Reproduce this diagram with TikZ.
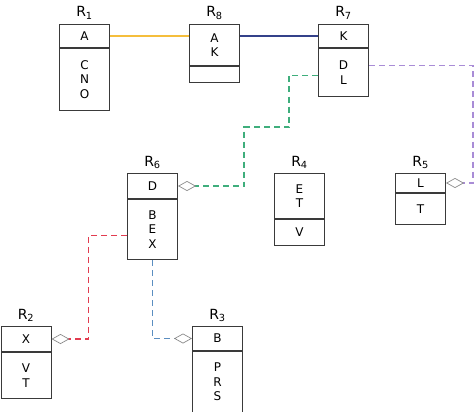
\documentclass[tikz,border=0pt]{standalone}
\usepackage{fontspec}
\setmainfont{DejaVu Sans}
\usetikzlibrary{positioning,arrows.meta}

\definecolor{linkyellow}{HTML}{F5BE3C}
\definecolor{linknavy}{HTML}{34418A}
\definecolor{linkpurple}{HTML}{A98CD6}
\definecolor{linkgreen}{HTML}{3FAE7C}
\definecolor{linkred}{HTML}{E23C50}
\definecolor{linksteel}{HTML}{5B8EC0}
\definecolor{diagray}{HTML}{8A8A8A}
\definecolor{boxgray}{HTML}{3A3A3A}

\begin{document}
\begin{tikzpicture}[x=1pt, y=-1pt,
    cell/.style={draw=boxgray, line width=1pt, minimum width=50pt, inner sep=0pt,
        align=center, font=\fontsize{12}{14.5}\selectfont},
    rel/.style={anchor=base, inner sep=0pt, font=\fontsize{14}{16}\selectfont},
    link/.style={line width=1.2pt},
    fk/.style={link, dash pattern=on 6pt off 4pt,
        -{Diamond[length=18pt, width=10pt, color=diagray, fill=white, line width=0.7pt]}}]
    \useasboundingbox (0,0) rectangle (474,412);

    % Relations in the top row
    \node[cell, minimum height=23pt, anchor=north west] (r1a) at (59,24) {A};
    \node[cell, minimum height=62pt, below=0pt of r1a] (r1b) {C\\N\\O};
    \node[rel] (r1) at ([yshift=7pt]r1a.north) {R\textsubscript{1}};

    \node[cell, minimum height=41pt, anchor=north west] (r8a) at (189,24) {A\\K};
    \node[cell, minimum height=16pt, below=0pt of r8a] (r8b) {};
    \node[rel] (r8) at ([yshift=7pt]r8a.north) {R\textsubscript{8}};

    \node[cell, minimum height=23pt, anchor=north west] (r7a) at (318,24) {K};
    \node[cell, minimum height=48pt, below=0pt of r7a] (r7b) {D\\L};
    \node[rel] (r7) at ([yshift=7pt]r7a.north) {R\textsubscript{7}};

    % Relations in the middle row
    \node[cell, minimum height=25pt, anchor=north west] (r6a) at (127,173) {D};
    \node[cell, minimum height=60pt, below=0pt of r6a] (r6b) {B\\E\\X};
    \node[rel] (r6) at ([yshift=7pt]r6a.north) {R\textsubscript{6}};

    \node[cell, minimum height=45pt, anchor=north west] (r4a) at (274,173) {E\\T};
    \node[cell, minimum height=26pt, below=0pt of r4a] (r4b) {V};
    \node[rel] (r4) at ([yshift=7pt]r4a.north) {R\textsubscript{4}};

    \node[cell, minimum height=19pt, anchor=north west] (r5a) at (395,173) {L};
    \node[cell, minimum height=31pt, below=0pt of r5a] (r5b) {T};
    \node[rel] (r5) at ([yshift=7pt]r5a.north) {R\textsubscript{5}};

    % Relations in the bottom row
    \node[cell, minimum height=25pt, anchor=north west] (r2a) at (0.5,326) {X};
    \node[cell, minimum height=46pt, below=0pt of r2a] (r2b) {V\\T};
    \node[rel] (r2) at ([yshift=7pt]r2a.north) {R\textsubscript{2}};

    \node[cell, minimum height=24pt, anchor=north west] (r3a) at (192,326) {B};
    \node[cell, minimum height=61pt, below=0pt of r3a] (r3b) {P\\R\\S};
    \node[rel] (r3) at ([yshift=7pt]r3a.north) {R\textsubscript{3}};

    % Solid links
    \draw[link, linkyellow] (r1a.east) -- (r1a.east -| r8a.west);
    \draw[link, linknavy] (r7a.west -| r8a.east) -- (r7a.west);

    % Dashed links with diamonds
    \draw[fk, linkpurple] ([yshift=7pt]r7b.east) -| ([xshift=27pt]r5a.east) -- (r5a.east);
    \coordinate (g1) at (289,127);
    \coordinate (g2) at (244,127);
    \draw[fk, linkgreen] ([yshift=-3pt]r7b.west) -| (g1) -- (g2) |- (r6a.east);
    \draw[fk, linkred] ([yshift=-6pt]r6b.west) -| ([xshift=37pt]r2a.east) -- (r2a.east);
    \draw[fk, linksteel] (r6b.south) |- (r3a.west);
\end{tikzpicture}
\end{document}
